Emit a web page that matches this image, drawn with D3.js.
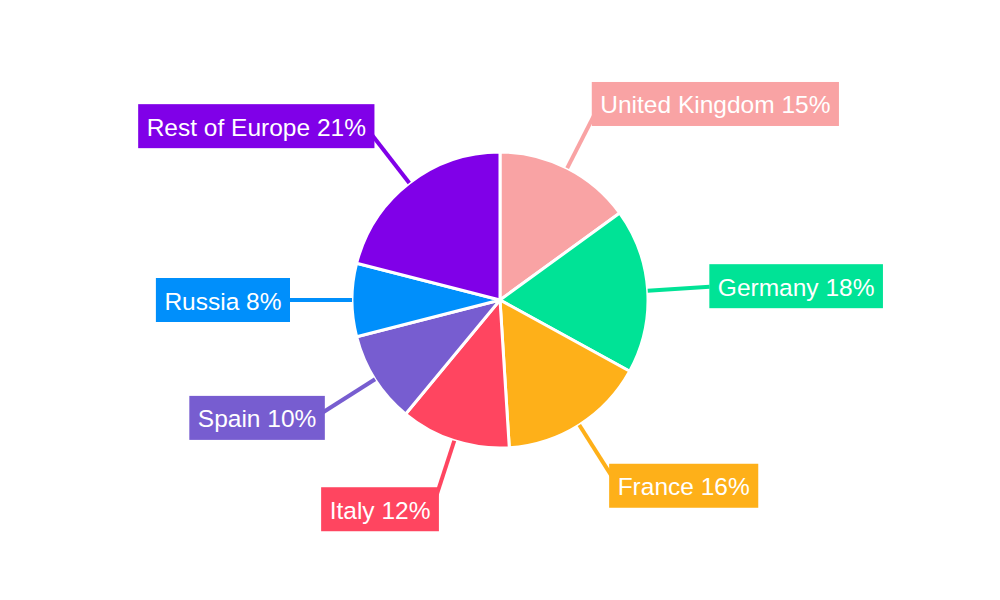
<!DOCTYPE html>
<html>
<head>
<meta charset="utf-8">
<script src="https://cdn.jsdelivr.net/npm/d3@7"></script>
<style>
  body { margin: 0; background: #fff; }
  svg { display: block; }
</style>
</head>
<body>
<div id="chart"></div>
<script>
// data
const countries = ["United Kingdom", "Germany", "France", "Italy", "Spain", "Russia", "Rest of Europe"];
const shares = [15, 18, 16, 12, 10, 8, 21];
const colors = ["#f9a3a4", "#00e396", "#feb019", "#ff4560", "#775dd0", "#008ffb", "#8000e8"];

const width = 1000;
const height = 600;
const radius = 148;
const labelRadius = 210;

const svg = d3.select("#chart")
  .append("svg")
  .attr("width", width)
  .attr("height", height);

const g = svg.append("g")
  .attr("transform", `translate(${width/2}, ${height/2})`);

const data = countries.map((c, i) => ({name: c, value: shares[i], color: colors[i]}));

const pie = d3.pie().sort(null).value(d => d.value);
const arcs = pie(data);
const arc = d3.arc().innerRadius(0).outerRadius(radius);

g.selectAll(".slice")
  .data(arcs)
  .join("path")
  .classed("slice", true)
    .attr("d", arc)
    .attr("fill", d => d.data.color)
    .attr("stroke", "white")
    .attr("stroke-width", 3)
    .attr("stroke-linejoin", "round");

const mid = d => (d.startAngle + d.endAngle) / 2;
const pt = (a, r) => [Math.sin(a) * r, -Math.cos(a) * r];

// leader lines
g.selectAll(".leader")
  .data(arcs)
  .join("line")
  .classed("leader", true)
    .attr("x1", d => pt(mid(d), radius)[0])
    .attr("y1", d => pt(mid(d), radius)[1])
    .attr("x2", d => pt(mid(d), labelRadius)[0])
    .attr("y2", d => pt(mid(d), labelRadius)[1])
    .attr("stroke", d => d.data.color)
    .attr("stroke-width", 4);

// boxed labels
const labels = g.selectAll(".lbl")
  .data(arcs)
  .join("g")
  .classed("lbl", true);

labels.append("rect")
  .attr("fill", d => d.data.color);

labels.append("text")
  .attr("fill", "white")
  .attr("font-family", "'Liberation Sans', Arial, sans-serif")
  .attr("font-size", 24.5)
  .attr("dominant-baseline", "central")
  .text(d => `${d.data.name} ${d.data.value}%`);

const padX = 8.5, boxH = 44;
labels.each(function(d) {
  const a = mid(d);
  const s = Math.sin(a), c = Math.cos(a);
  const [ex, ey] = pt(a, labelRadius);
  const tw = d3.select(this).select("text").node().getComputedTextLength();
  const w = tw + padX * 2;
  const right = s >= 0;
  const nearX = ex - Math.sign(s) * Math.abs(c) * 4;
  const x0 = right ? nearX : nearX - w;
  const cy = ey - c * 10;
  d3.select(this).select("rect")
    .attr("x", x0).attr("y", cy - boxH/2)
    .attr("width", w).attr("height", boxH);
  d3.select(this).select("text")
    .attr("x", x0 + padX).attr("y", cy + 1);
});
</script>
</body>
</html>
